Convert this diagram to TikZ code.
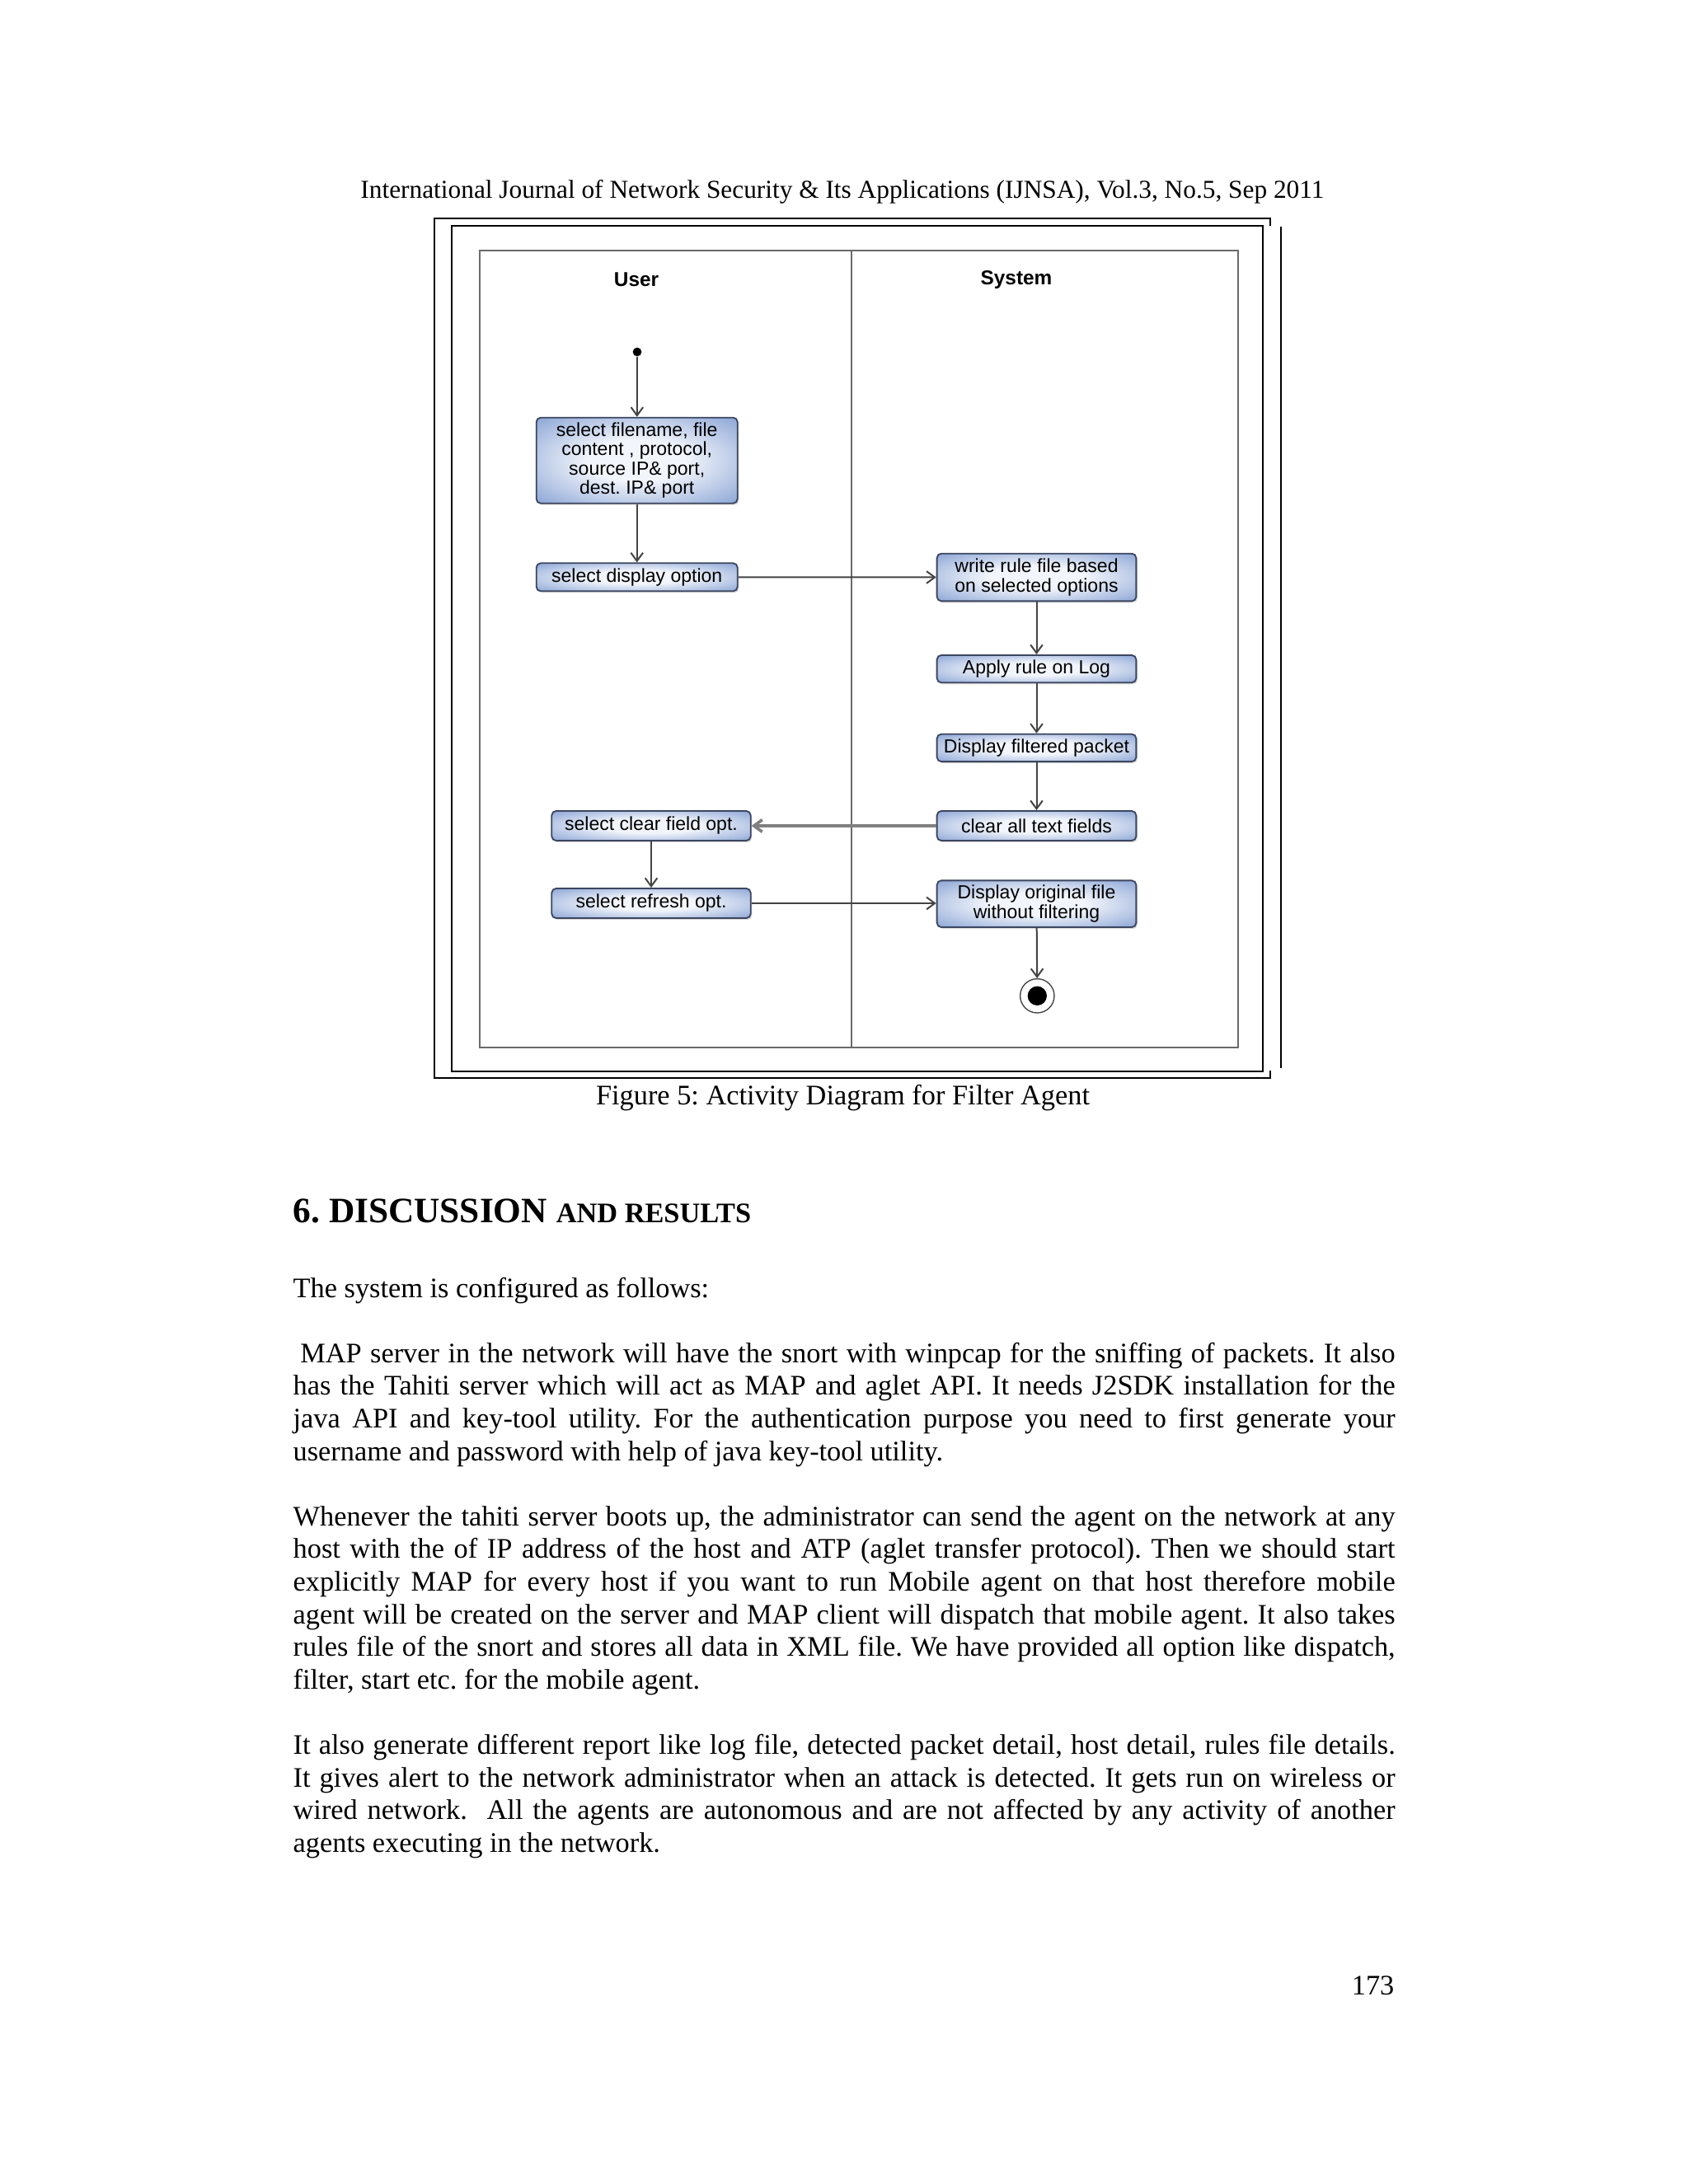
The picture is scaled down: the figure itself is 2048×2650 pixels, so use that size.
\documentclass[tikz,border=0pt]{standalone}
\usepackage{fontspec}
\setmainfont{Liberation Serif}
\newfontfamily\diagfont{Liberation Sans}
\usetikzlibrary{arrows.meta,shadows}
\frenchspacing

\definecolor{boxedge}{HTML}{8AA4D5}
\definecolor{boxmid}{HTML}{F2F5FB}
\definecolor{boxline}{HTML}{3C4660}
\definecolor{lanegray}{HTML}{6A6A6A}
\definecolor{flowgray}{HTML}{444444}

% light centre, blue rim
\pgfdeclareradialshading{actshade}{\pgfpoint{0bp}{0bp}}{color(0bp)=(boxmid); color(12bp)=(boxmid); color(36bp)=(boxedge); color(50bp)=(boxedge)}

% one justified line of body text
\newlength{\bodyw}\setlength{\bodyw}{401pt}
\newcommand{\jl}[1]{\makebox[\bodyw][s]{#1}}

\tikzset{
  act/.style={draw=boxline, line width=0.55pt, rounded corners=1.6pt,
    shading=actshade, minimum width=72.5pt,
    inner sep=0pt, align=center,
    font=\diagfont\fontsize{6.9}{7}\selectfont,
    drop shadow={shadow xshift=0.5pt, shadow yshift=-0.6pt, opacity=0.3}},
  initial/.style={circle, fill=black, minimum size=3.2pt, inner sep=0pt},
  final/.style={circle, draw=black!75, line width=0.4pt, minimum size=12.4pt,
    inner sep=0pt, path picture={\fill[black] (path picture bounding box.center) circle (3.5pt);}},
  flow/.style={draw=flowgray, line width=0.6pt, -{Straight Barb[length=3pt,width=4.4pt]}},
  lanehead/.style={font=\diagfont\bfseries\fontsize{7.3}{9}\selectfont, inner sep=0pt},
  body/.style={anchor=base west, inner sep=0pt, font=\fontsize{10.3}{11.88}\selectfont},
}

\begin{document}
\begin{tikzpicture}[x=0.29993pt, y=-0.29993pt]
  \useasboundingbox (0,0) rectangle (2048,2650);
  \fill[white] (0,0) rectangle (2048,2650);

  % running head
  \node[anchor=base, inner sep=0pt, font=\fontsize{9.4}{11}\selectfont] (head) at (1022,240.7)
    {International Journal of Network Security \& Its Applications (IJNSA), Vol.3, No.5, Sep 2011};

  % figure frames
  \draw[line width=0.6pt] (1541,274) -- (1541,265) -- (527,265) -- (527,1308) -- (1541,1308) -- (1541,1299);
  \draw[line width=0.6pt] (548,274) rectangle (1532,1300);
  \draw[line width=0.6pt] (1554,275) -- (1554,1296);

  % swimlanes
  \draw[lanegray, line width=0.85pt] (582,304) rectangle (1502,1271);
  \draw[lanegray, line width=0.6pt] (1032.5,304) -- (1032.5,1271);
  \node[lanehead] (user) at (772,339.5) {User};
  \node[lanehead] (system) at (1233,339.5) {System};

  % user lane
  \node[initial] (start) at (773,427) {};
  \node[act, minimum width=73.2pt, minimum height=31.2pt] (selfile) at (772.7,558.7)
    {select filename, file\\content , protocol,\\source IP\& port,\\dest. IP\& port};
  \node[act, minimum width=73.2pt, minimum height=10.2pt] (seldisp) at (772.7,700.3) {select display option};
  \node[act, minimum width=72.4pt, minimum height=10.8pt] (selclear) at (790,1002) {select clear field opt.};
  \node[act, minimum width=72.4pt, minimum height=10.8pt] (selref) at (790,1096) {select refresh opt.};

  % system lane
  \node[act, minimum height=17.3pt] (writerule) at (1257.5,700.5) {write rule file based\\on selected options};
  \node[act, minimum height=10pt] (applyrule) at (1257.5,811.6) {Apply rule on Log};
  \node[act, minimum height=10pt] (dispfilt) at (1257.5,907.4) {Display filtered packet};
  \node[act, minimum height=10.8pt] (clearall) at (1257.5,1002) {clear all text fields};
  \node[act, minimum height=17pt] (disporig) at (1257.5,1096.7) {Display original file\\without filtering};
  \node[final] (stop) at (1258.3,1208.3) {};

  % control flow
  \draw[flow] (start) -- (selfile);
  \draw[flow] (selfile) -- (seldisp);
  \draw[flow] (seldisp) -- (writerule);
  \draw[flow] (writerule) -- (applyrule);
  \draw[flow] (applyrule) -- (dispfilt);
  \draw[flow] (dispfilt) -- (clearall);
  \draw[flow, draw=gray, line width=1.1pt] (clearall) -- (selclear);
  \draw[flow] (selclear) -- (selref);
  \draw[flow] (selref.east) -- (selref.east -| disporig.west);
  \draw[flow] (disporig) -- (stop);

  % caption and section
  \node[anchor=base, inner sep=0pt, font=\fontsize{10.3}{12}\selectfont] (caption) at (1022.5,1340)
    {Figure 5: Activity Diagram for Filter Agent};
  \node[anchor=base west, inner sep=0pt, font=\bfseries] (section) at (355,1483.7)
    {\fontsize{13}{15}\selectfont 6. DISCUSSION \fontsize{10.3}{12}\selectfont AND RESULTS};

  % body text, one node per printed line
  \node[body] (l0) at (355,1574) {The system is configured as follows:};
  \foreach \k/\t in {
    2/{\hspace*{2.6pt}MAP server in the network will have the snort with winpcap for the sniffing of packets. It also},
    3/{has the Tahiti server which will act as MAP and aglet API. It needs J2SDK installation for the},
    4/{java API and key-tool utility. For the authentication purpose you need to first generate your},
    7/{Whenever the tahiti server boots up, the administrator can send the agent on the network at any},
    8/{host with the of IP address of the host and ATP (aglet transfer protocol). Then we should start},
    9/{explicitly MAP for every host if you want to run Mobile agent on that host therefore mobile},
    10/{agent will be created on the server and MAP client will dispatch that mobile agent. It also takes},
    11/{rules file of the snort and stores all data in XML file. We have provided all option like dispatch,},
    14/{It also generate different report like log file, detected packet detail, host detail, rules file details.},
    15/{It gives alert to the network administrator when an attack is detected. It gets run on wireless or},
    16/{wired network.\ \ All the agents are autonomous and are not affected by any activity of another}}
    \node[body] (l\k) at (355,{1574+39.6*\k}) {\jl{\t}};
  \node[body] (l5) at (355,{1574+39.6*5}) {username and password with help of java key-tool utility.};
  \node[body] (l12) at (355,{1574+39.6*12}) {filter, start etc. for the mobile agent.};
  \node[body] (l17) at (355,{1574+39.6*17}) {agents executing in the network.};

  % page number
  \node[anchor=base east, inner sep=0pt, font=\fontsize{10.3}{12}\selectfont] (page) at (1692,2420) {173};
\end{tikzpicture}
\end{document}
